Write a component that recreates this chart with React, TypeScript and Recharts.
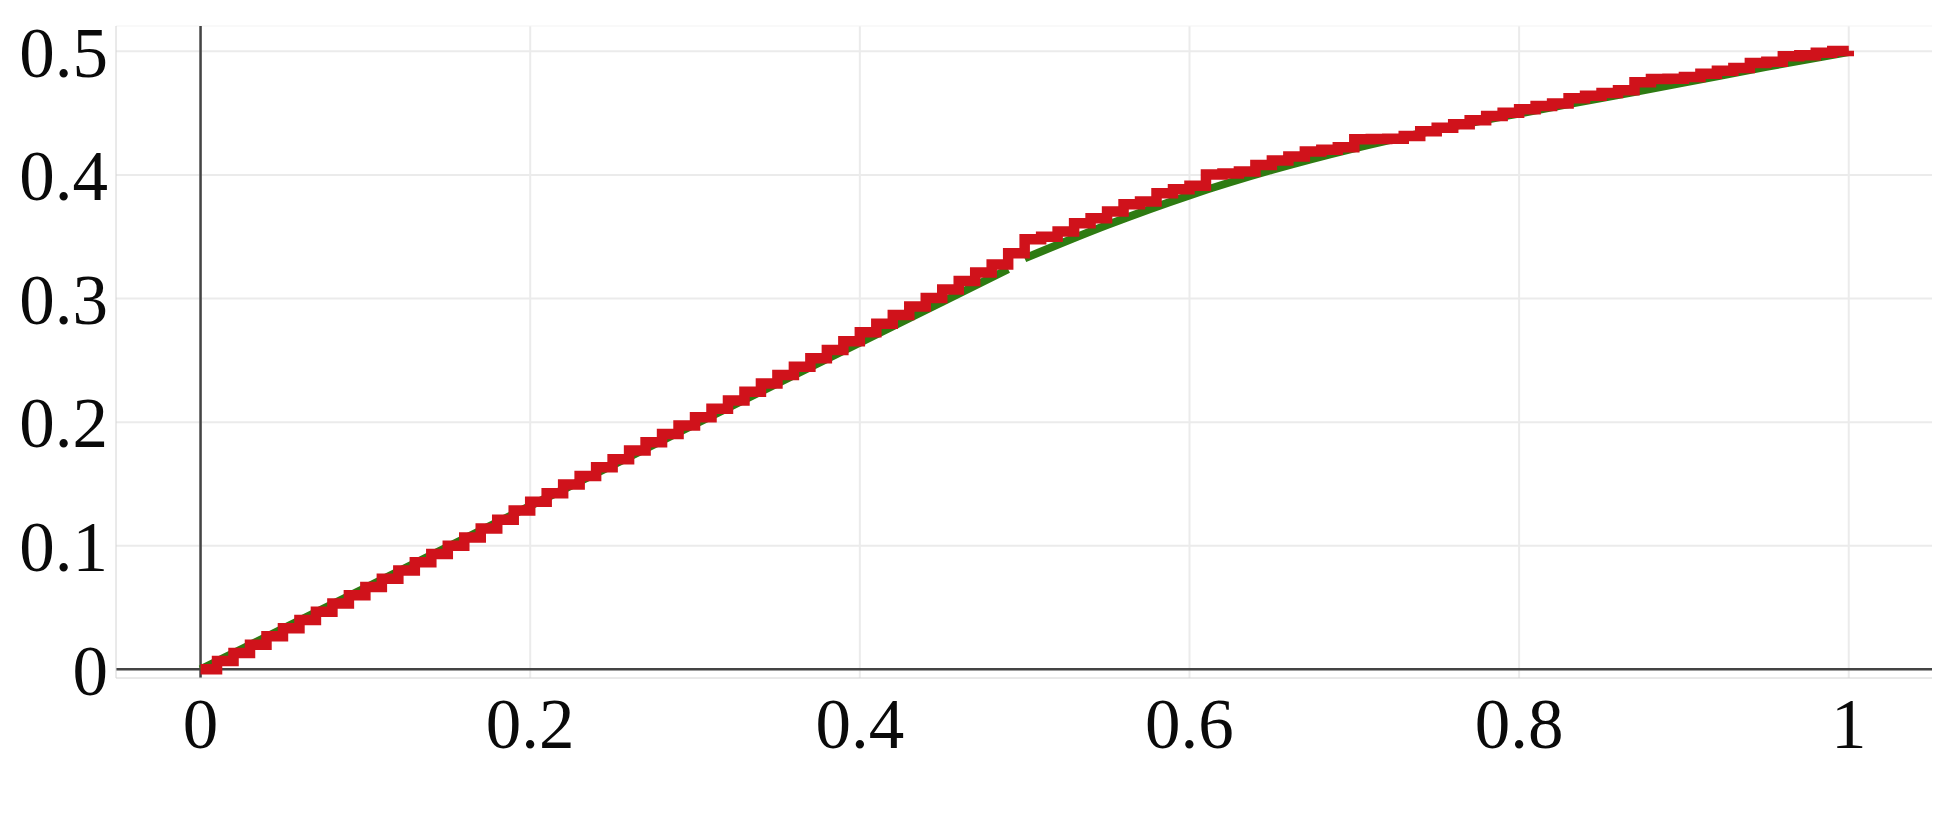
import React from "react";
import { LineChart, Line, XAxis, YAxis, CartesianGrid, ReferenceLine } from "recharts";

const xTicks = [0, 0.2, 0.4, 0.6, 0.8, 1];
const yTicks = [0, 0.1, 0.2, 0.3, 0.4, 0.5];

const redX = [
  0, 0.01, 0.02, 0.03, 0.04, 0.05, 0.06, 0.07, 0.08, 0.09,
  0.1, 0.11, 0.12, 0.13, 0.14, 0.15, 0.16, 0.17, 0.18, 0.19,
  0.2, 0.21, 0.22, 0.23, 0.24, 0.25, 0.26, 0.27, 0.28, 0.29,
  0.3, 0.31, 0.32, 0.33, 0.34, 0.35, 0.36, 0.37, 0.38, 0.39,
  0.4, 0.41, 0.42, 0.43, 0.44, 0.45, 0.46, 0.47, 0.48, 0.49,
  0.5, 0.51, 0.52, 0.53, 0.54, 0.55, 0.56, 0.57, 0.58, 0.59,
  0.6, 0.61, 0.62, 0.63, 0.64, 0.65, 0.66, 0.67, 0.68, 0.69,
  0.7, 0.71, 0.72, 0.73, 0.74, 0.75, 0.76, 0.77, 0.78, 0.79,
  0.8, 0.81, 0.82, 0.83, 0.84, 0.85, 0.86, 0.87, 0.88, 0.89,
  0.9, 0.91, 0.92, 0.93, 0.94, 0.95, 0.96, 0.97, 0.98, 0.99,
  1,
];

const redY = [
  0, 0.0067, 0.0133, 0.02, 0.0267, 0.0333, 0.04, 0.0467, 0.0533, 0.06,
  0.0667, 0.0733, 0.08, 0.0867, 0.0933, 0.1, 0.1067, 0.114, 0.121, 0.1285,
  0.1355, 0.1425, 0.1495, 0.1565, 0.1635, 0.17, 0.177, 0.1838, 0.1905, 0.1972,
  0.204, 0.2108, 0.2175, 0.2245, 0.2313, 0.2381, 0.2449, 0.2516, 0.2584, 0.2655,
  0.2727, 0.2797, 0.2866, 0.2935, 0.3004, 0.3073, 0.3142, 0.321, 0.3275, 0.3366,
  0.348, 0.35, 0.3542, 0.3609, 0.365, 0.3704, 0.3763, 0.3785, 0.3852, 0.3885,
  0.3912, 0.4004, 0.4012, 0.4028, 0.408, 0.4117, 0.415, 0.419, 0.4204, 0.4225,
  0.4288, 0.429, 0.4292, 0.4315, 0.4353, 0.4382, 0.441, 0.4442, 0.4477, 0.4504,
  0.4531, 0.4558, 0.4578, 0.462, 0.464, 0.4663, 0.4686, 0.475, 0.4776, 0.4778,
  0.4792, 0.4818, 0.4843, 0.4866, 0.4905, 0.4915, 0.496, 0.4968, 0.4989, 0.5002,
  0.5004,
];

const greenLeftX = [0, 0.05, 0.1, 0.15, 0.2, 0.25, 0.3, 0.35, 0.4, 0.45, 0.49];
const greenLeftY = [0, 0.033, 0.066, 0.0992, 0.1322, 0.1652, 0.1983, 0.2313, 0.2643, 0.2973, 0.3237];

const greenRightX = [0.5, 0.55, 0.6, 0.65, 0.7, 0.75, 0.8, 0.85, 0.9, 0.95, 1];
const greenRightY = [0.3325, 0.3595, 0.3835, 0.404, 0.4215, 0.4365, 0.4497, 0.4622, 0.4747, 0.4874, 0.4995];

const xDomain = [-0.0513, 1.0505];
const yDomain = [-0.007, 0.5205];

const redData = redX.map((x, i) => ({ x, y: redY[i] }));
const greenLeftData = greenLeftX.map((x, i) => ({ x, y: greenLeftY[i] }));
const greenRightData = greenRightX.map((x, i) => ({ x, y: greenRightY[i] }));

const tickStyle = { fontFamily: "'Liberation Serif', serif", fontSize: 71, fill: "#0a0a0a" };
const fmt = (v: number) => String(Number(v.toFixed(2)));

export default function App() {
  return (
    <LineChart
      width={1940}
      height={800}
      margin={{ top: 18, right: 16, left: 0, bottom: 0 }}
      style={{ background: "#fff" }}
    >
      <CartesianGrid stroke="#ebebeb" strokeWidth={2} horizontalValues={yTicks} verticalValues={xTicks} />
      <XAxis
        dataKey="x"
        type="number"
        domain={xDomain}
        ticks={xTicks}
        allowDataOverflow
        tickFormatter={fmt}
        tickLine={false}
        tickSize={0}
        tickMargin={20}
        height={130}
        axisLine={{ stroke: "#d4d4d4", strokeWidth: 1 }}
        tick={tickStyle}
        interval={0}
      />
      <YAxis
        type="number"
        domain={yDomain}
        ticks={yTicks}
        allowDataOverflow
        tickFormatter={fmt}
        tickLine={false}
        tickSize={0}
        tickMargin={8}
        width={108}
        axisLine={{ stroke: "#d4d4d4", strokeWidth: 1 }}
        tick={tickStyle}
        interval={0}
      />
      <ReferenceLine y={yDomain[1]} stroke="#f3f3f3" strokeWidth={1} />
      <ReferenceLine x={0} stroke="#444" strokeWidth={2.5} />
      <ReferenceLine y={0} stroke="#444" strokeWidth={2.5} />
      <Line
        data={greenLeftData}
        dataKey="y"
        type="linear"
        stroke="#2e7b12"
        strokeWidth={8}
        dot={false}
        isAnimationActive={false}
        strokeLinecap="butt"
      />
      <Line
        data={greenRightData}
        dataKey="y"
        type="monotone"
        stroke="#2e7b12"
        strokeWidth={8}
        dot={false}
        isAnimationActive={false}
        strokeLinecap="butt"
      />
      <Line
        data={redData}
        dataKey="y"
        type="stepAfter"
        stroke="#d0121b"
        strokeWidth={10.5}
        dot={false}
        isAnimationActive={false}
        strokeLinecap="butt"
        strokeLinejoin="miter"
      />
    </LineChart>
  );
}
